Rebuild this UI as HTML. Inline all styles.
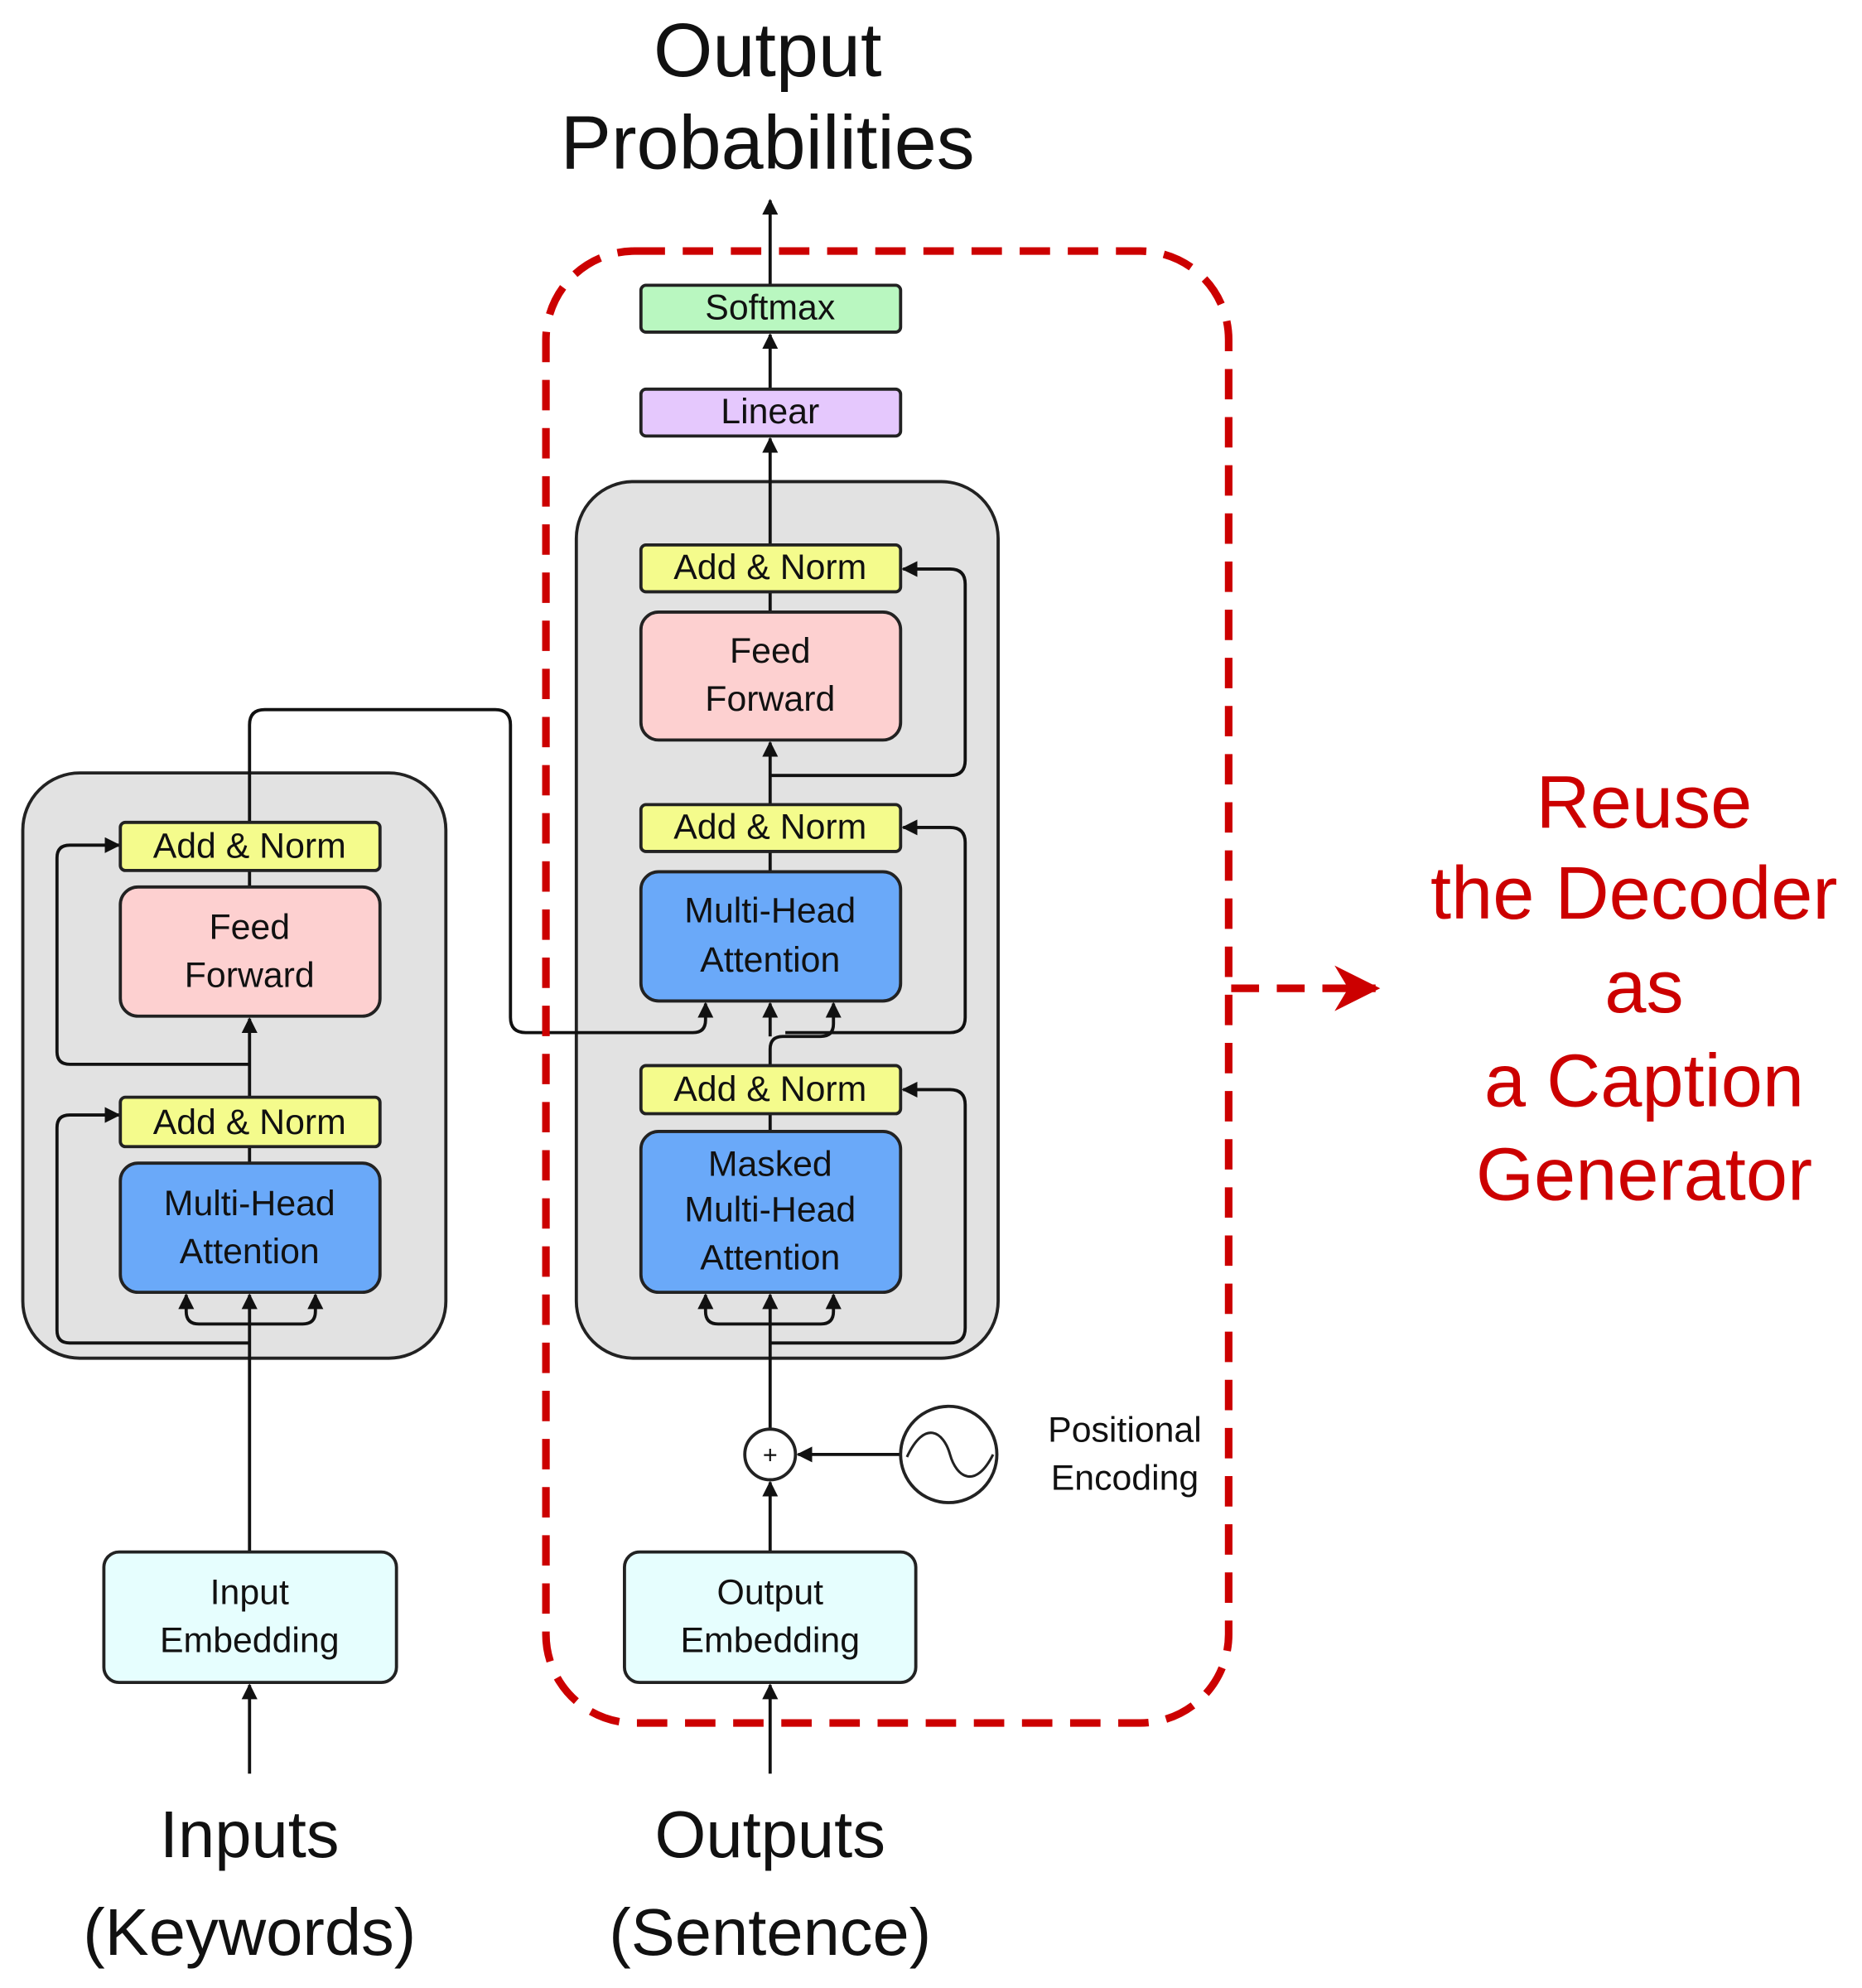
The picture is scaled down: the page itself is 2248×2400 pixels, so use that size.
<!DOCTYPE html>
<html><head><meta charset="utf-8"><style>html,body{margin:0;padding:0;background:#fff}svg{display:block}</style></head>
<body>
<svg width="2248" height="2400" viewBox="0 0 1470 1569" xmlns="http://www.w3.org/2000/svg" font-family="Liberation Sans, sans-serif">
<defs>
<marker id="a" viewBox="0 0 10 10" refX="9" refY="5" markerWidth="5" markerHeight="5" orient="auto"><path d="M0,0 L10,5 L0,10 z" fill="#111"/></marker>
<marker id="r" viewBox="0 0 10 10" refX="9" refY="5" markerWidth="6" markerHeight="6" orient="auto"><path d="M0,0 L10,5 L0,10 L3,5 z" fill="#cc0000"/></marker>
</defs>
<rect x="18" y="610" width="334" height="462" rx="45" fill="#e2e2e2" stroke="#222" stroke-width="2.5"/>
<rect x="455" y="380" width="333" height="692" rx="45" fill="#e2e2e2" stroke="#222" stroke-width="2.5"/>
<g fill="none" stroke="#111" stroke-width="2.5">
<line x1="197" y1="1225" x2="197" y2="1022" marker-end="url(#a)"/>
<path d="M197,1045 H157 Q147,1045 147,1035 V1022" marker-end="url(#a)"/>
<path d="M197,1045 H239 Q249,1045 249,1035 V1022" marker-end="url(#a)"/>
<path d="M197,1060 H55 Q45,1060 45,1050 V890 Q45,880 55,880 H94" marker-end="url(#a)"/>
<line x1="197" y1="918" x2="197" y2="905"/>
<line x1="197" y1="866" x2="197" y2="804" marker-end="url(#a)"/>
<path d="M197,840 H55 Q45,840 45,830 V677 Q45,667 55,667 H94" marker-end="url(#a)"/>
<line x1="197" y1="700" x2="197" y2="687"/>
<line x1="197" y1="1400" x2="197" y2="1330" marker-end="url(#a)"/>
<path d="M197,649 V572 Q197,560 209,560 H391 Q403,560 403,572 V803 Q403,815 415,815 H547 Q557,815 557,805 V792" marker-end="url(#a)"/>
<line x1="608" y1="1400" x2="608" y2="1330" marker-end="url(#a)"/>
<line x1="608" y1="1225" x2="608" y2="1170" marker-end="url(#a)"/>
<line x1="710" y1="1148" x2="630" y2="1148" marker-end="url(#a)"/>
<line x1="608" y1="1128" x2="608" y2="1022" marker-end="url(#a)"/>
<path d="M608,1045 H567 Q557,1045 557,1035 V1022" marker-end="url(#a)"/>
<path d="M608,1045 H648 Q658,1045 658,1035 V1022" marker-end="url(#a)"/>
<path d="M608,1060 H750 Q762,1060 762,1048 V872 Q762,860 750,860 H713" marker-end="url(#a)"/>
<line x1="608" y1="893" x2="608" y2="879"/>
<path d="M608,841 V828 Q608,818 618,818 H648 Q658,818 658,808 V792" marker-end="url(#a)"/>
<line x1="608" y1="818" x2="608" y2="792" marker-end="url(#a)"/>
<path d="M620,815 H750 Q762,815 762,803 V665 Q762,653 750,653 H713" marker-end="url(#a)"/>
<line x1="608" y1="688" x2="608" y2="672"/>
<line x1="608" y1="635" x2="608" y2="586" marker-end="url(#a)"/>
<path d="M608,612 H750 Q762,612 762,600 V461 Q762,449 750,449 H713" marker-end="url(#a)"/>
<line x1="608" y1="483" x2="608" y2="467"/>
<line x1="608" y1="430" x2="608" y2="346" marker-end="url(#a)"/>
<line x1="608" y1="307" x2="608" y2="264" marker-end="url(#a)"/>
<line x1="608" y1="225" x2="608" y2="158" marker-end="url(#a)"/>
</g>
<g stroke="#222" stroke-width="2.5">
<rect x="95" y="649" width="205" height="38" rx="4" fill="#f4fb8c"/>
<rect x="95" y="700" width="205" height="102" rx="14" fill="#fdd0d0"/>
<rect x="95" y="866" width="205" height="39" rx="4" fill="#f4fb8c"/>
<rect x="95" y="918" width="205" height="102" rx="14" fill="#6aa9f9"/>
<rect x="82" y="1225" width="231" height="103" rx="12" fill="#e6fefe"/>
<rect x="506" y="430" width="205" height="37" rx="4" fill="#f4fb8c"/>
<rect x="506" y="483" width="205" height="101" rx="14" fill="#fdd0d0"/>
<rect x="506" y="635" width="205" height="37" rx="4" fill="#f4fb8c"/>
<rect x="506" y="688" width="205" height="102" rx="14" fill="#6aa9f9"/>
<rect x="506" y="841" width="205" height="38" rx="4" fill="#f4fb8c"/>
<rect x="506" y="893" width="205" height="127" rx="14" fill="#6aa9f9"/>
<rect x="506" y="307" width="205" height="37" rx="4" fill="#e5c8fd"/>
<rect x="506" y="225" width="205" height="37" rx="4" fill="#b9f7c0"/>
<rect x="493" y="1225" width="230" height="103" rx="12" fill="#e6fefe"/>
<circle cx="608" cy="1148" r="20" fill="#fff"/>
<circle cx="749" cy="1148" r="38" fill="#fff"/>
</g>
<path d="M716,1150 C730,1120 745,1130 750,1148 C755,1166 770,1176 784,1148" fill="none" stroke="#222" stroke-width="2"/>
<text x="608" y="1155" font-size="20" text-anchor="middle" fill="#111">+</text>
<g font-size="28" text-anchor="middle" fill="#111">
<text x="197" y="677">Add &amp; Norm</text>
<text x="197" y="741">Feed</text><text x="197" y="779">Forward</text>
<text x="197" y="895">Add &amp; Norm</text>
<text x="197" y="959">Multi-Head</text><text x="197" y="997">Attention</text>
<text x="197" y="1266">Input</text><text x="197" y="1304">Embedding</text>
<text x="608" y="457">Add &amp; Norm</text>
<text x="608" y="523">Feed</text><text x="608" y="561">Forward</text>
<text x="608" y="662">Add &amp; Norm</text>
<text x="608" y="728">Multi-Head</text><text x="608" y="767">Attention</text>
<text x="608" y="869">Add &amp; Norm</text>
<text x="608" y="928">Masked</text><text x="608" y="964">Multi-Head</text><text x="608" y="1002">Attention</text>
<text x="608" y="334">Linear</text>
<text x="608" y="252">Softmax</text>
<text x="608" y="1266">Output</text><text x="608" y="1304">Embedding</text>
<text x="888" y="1138">Positional</text><text x="888" y="1176">Encoding</text>
</g>
<g font-size="60" text-anchor="middle" fill="#111">
<text x="606" y="60">Output</text><text x="606" y="133">Probabilities</text>
</g>
<g font-size="52" text-anchor="middle" fill="#111">
<text x="197" y="1466">Inputs</text><text x="197" y="1543">(Keywords)</text>
<text x="608" y="1466">Outputs</text><text x="608" y="1543">(Sentence)</text>
</g>
<rect x="431" y="198" width="539" height="1162" rx="70" fill="none" stroke="#cc0000" stroke-width="6" stroke-dasharray="24 14"/>
<line x1="972" y1="780" x2="1086" y2="780" stroke="#cc0000" stroke-width="6" stroke-dasharray="22 14" marker-end="url(#r)"/>
<g font-size="59" text-anchor="middle" fill="#cc0000">
<text x="1298" y="653">Reuse</text>
<text x="1290" y="725">the Decoder</text>
<text x="1298" y="799">as</text>
<text x="1298" y="873">a Caption</text>
<text x="1298" y="947">Generator</text>
</g>
</svg>
</body></html>
